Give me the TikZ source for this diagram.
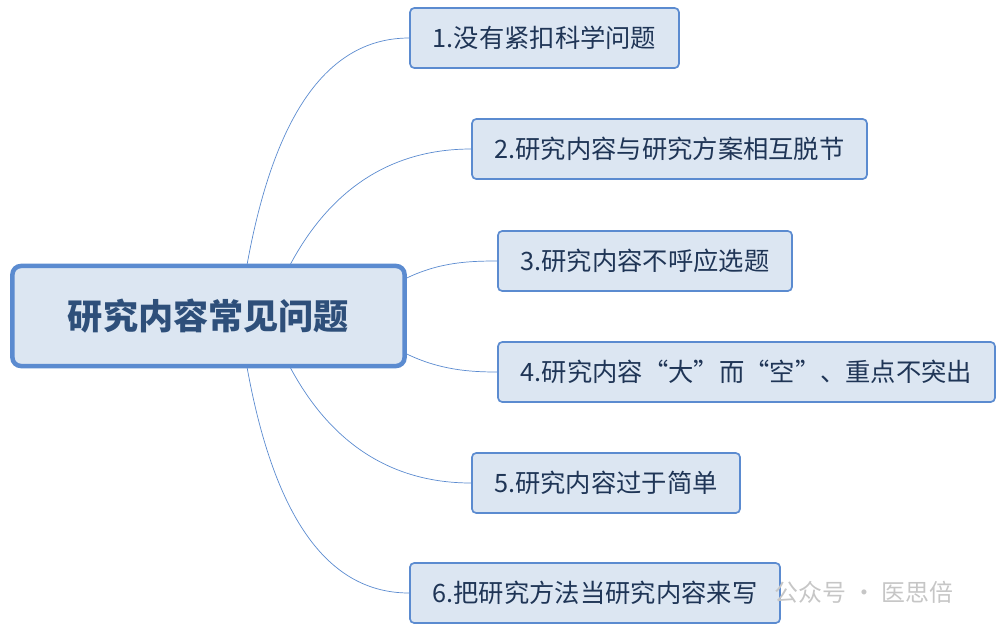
\documentclass[tikz,border=0pt]{standalone}
\usepackage{fontspec}
\newfontfamily\cjk{Noto Sans CJK SC}
\definecolor{boxfill}{HTML}{DCE6F2}
\definecolor{boxline}{HTML}{5B8BD0}
\definecolor{boxtext}{HTML}{1F3556}
\definecolor{roottext}{HTML}{2E4F7A}
\tikzset{
  topic/.style = {rectangle, rounded corners=3pt, draw=boxline, line width=1.2pt, fill=boxfill,
    minimum height=1.5cm, inner xsep=0pt, text=boxtext, font=\cjk\fontsize{18}{20}\selectfont},
  root/.style = {rectangle, rounded corners=6pt, draw=boxline, line width=3.2pt, fill=boxfill,
    minimum width=9.8cm, minimum height=2.5cm, text=roottext, font=\cjk\bfseries\fontsize{25}{28}\selectfont},
  branch/.style = {draw=boxline, line width=0.5pt}
}
\begin{document}
\begin{tikzpicture}[x=0.025cm, y=-0.025cm]
  \useasboundingbox (0,0) rectangle (1003,632);

  \node (root) [root] at (208.5,316) {研究内容常见问题};

  \node (t1) [topic, minimum width=6.72cm] at (544.5,38) {1.没有紧扣科学问题};
  \node (t2) [topic, minimum width=9.87cm] at (669.5,149) {2.研究内容与研究方案相互脱节};
  \node (t3) [topic, minimum width=7.35cm] at (645,261) {3.研究内容不呼应选题};
  \node (t4) [topic, minimum width=12.42cm] at (746.5,372) {4.研究内容“大”而“空”、重点不突出};
  \node (t5) [topic, minimum width=6.70cm] at (606,483) {5.研究内容过于简单};
  \node (t6) [topic, minimum width=9.25cm] at (595,593) {6.把研究方法当研究内容来写};

  \coordinate (r1) at (247,265);
  \coordinate (r2) at (290,265);
  \coordinate (r5) at (290,367);
  \coordinate (r6) at (247,367);

  \draw[branch] (r1) .. controls (275,110) and (330,38) .. (t1.west);
  \draw[branch] (r2) .. controls (330,190) and (390,149) .. (t2.west);
  \draw[branch] (root.east |- 0,278) .. controls (440,262) and (470,261) .. (t3.west);
  \draw[branch] (root.east |- 0,354) .. controls (440,370) and (470,372) .. (t4.west);
  \draw[branch] (r5) .. controls (330,442) and (390,483) .. (t5.west);
  \draw[branch] (r6) .. controls (275,522) and (330,593) .. (t6.west);

  % watermark
  \node (mark) [text=gray!45, font=\cjk\fontsize{17}{20}\selectfont, anchor=west] at (770,592) {公众号 · 医思倍};
\end{tikzpicture}
\end{document}
